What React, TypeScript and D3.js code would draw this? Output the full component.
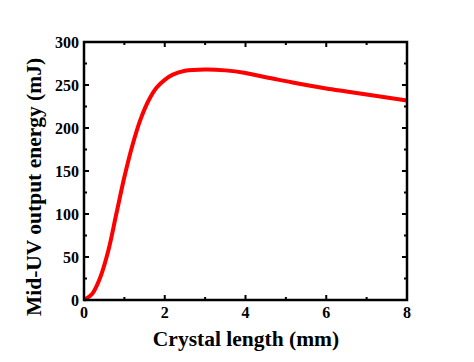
import React from "react";
import * as d3 from "d3";

const lengthMm = [0, 0.2, 0.4, 0.6, 0.8, 1.0, 1.2, 1.4, 1.6, 1.8, 2.0, 2.2, 2.5, 3.0, 3.5, 4.0, 4.5, 5.0, 5.5, 6.0, 6.5, 7.0, 7.5, 8.0];
const energyMj = [0, 7, 26, 57, 100, 143, 180, 210, 232, 247, 256, 262, 266.5, 268, 267, 264, 259, 254.5, 250, 246, 242.5, 239, 235.5, 232];
const xTicks = [0, 2, 4, 6, 8];
const xMinor = [1, 3, 5, 7];
const yTicks = [0, 50, 100, 150, 200, 250, 300];
const yMinor = [25, 75, 125, 175, 225, 275];

export default function App() {
  const W = 474, H = 362;
  const L = 84, R = 407, T = 42, B = 300;
  const x = d3.scaleLinear().domain([0, 8]).range([L, R]);
  const y = d3.scaleLinear().domain([0, 300]).range([B, T]);
  const pts = lengthMm.map((v, i) => [v, energyMj[i]] as [number, number]);
  const line = d3.line<[number, number]>().x(d => x(d[0])).y(d => y(d[1])).curve(d3.curveCatmullRom.alpha(0.5));
  const font = "'Liberation Serif', 'Times New Roman', serif";
  return (
    <svg width={W} height={H} style={{ position: "absolute", left: 0, top: 0, background: "#fff" }}>
      <path d={line(pts) || ""} fill="none" stroke="#ff0000" strokeWidth={4} />
      {xTicks.map(t => (
        <g key={"x" + t}>
          <line x1={x(t)} x2={x(t)} y1={B} y2={B - 5} stroke="#000" strokeWidth={2} />
          <line x1={x(t)} x2={x(t)} y1={T} y2={T + 5} stroke="#000" strokeWidth={2} />
          <text x={x(t)} y={B + 18} textAnchor="middle" fontFamily={font} fontWeight="bold" fontSize={16}>{t}</text>
        </g>
      ))}
      {xMinor.map(t => (
        <g key={"xm" + t}>
          <line x1={x(t)} x2={x(t)} y1={B} y2={B - 3} stroke="#000" strokeWidth={2} />
          <line x1={x(t)} x2={x(t)} y1={T} y2={T + 3} stroke="#000" strokeWidth={2} />
        </g>
      ))}
      {yTicks.map(t => (
        <g key={"y" + t}>
          <line x1={L} x2={L + 5} y1={y(t)} y2={y(t)} stroke="#000" strokeWidth={2} />
          <line x1={R} x2={R - 5} y1={y(t)} y2={y(t)} stroke="#000" strokeWidth={2} />
          <text x={L - 5} y={y(t) + 5.5} textAnchor="end" fontFamily={font} fontWeight="bold" fontSize={16}>{t}</text>
        </g>
      ))}
      {yMinor.map(t => (
        <g key={"ym" + t}>
          <line x1={L} x2={L + 3} y1={y(t)} y2={y(t)} stroke="#000" strokeWidth={2} />
          <line x1={R} x2={R - 3} y1={y(t)} y2={y(t)} stroke="#000" strokeWidth={2} />
        </g>
      ))}
      <rect x={L} y={T} width={R - L} height={B - T} fill="none" stroke="#000" strokeWidth={2.5} />
      <text x={246} y={346} textAnchor="middle" fontFamily={font} fontWeight="bold" fontSize={21.5}>Crystal length (mm)</text>
      <text transform={`translate(41,187) rotate(-90)`} textAnchor="middle" fontFamily={font} fontWeight="bold" fontSize={21.5}>Mid-UV output energy (mJ)</text>
    </svg>
  );
}
